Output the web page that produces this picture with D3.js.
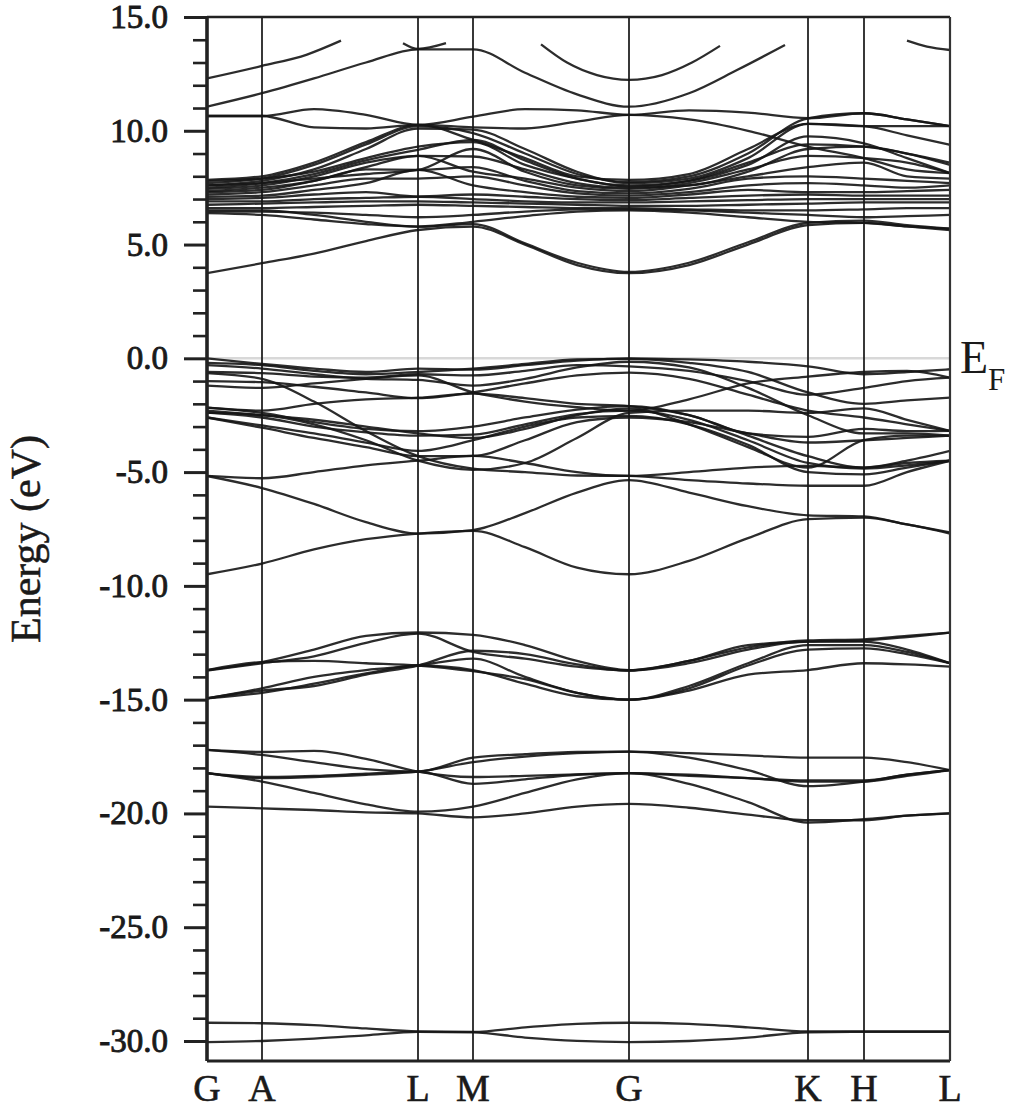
<!DOCTYPE html>
<html>
<head>
<meta charset="utf-8">
<script src="https://cdn.jsdelivr.net/npm/d3@7"></script>
<style>
  body { margin: 0; background: #fff; }
  svg text { font-family: "Liberation Serif", "Times New Roman", serif; fill: #1a1a1a; }
</style>
</head>
<body>
<div id="chart"></div>
<script>
// high symmetry path (k in arbitrary path units)
const kLabels = ['G', 'A', 'L', 'M', 'G', 'K', 'H', 'L'];
const kTicks = [0, 55, 211, 266, 422, 601, 657, 743];
// sample points along the path where band energies were read
const kNodes = [0, 55, 107, 159, 211, 266, 318, 370, 422, 482, 541, 601, 657, 700, 743];

const yMajor = [15, 10, 5, 0, -5, -10, -15, -20, -25, -30];

// energies (eV) at kNodes
const coreBands = [
  [-29.2, -29.22, -29.3, -29.45, -29.58, -29.6, -29.4, -29.25, -29.2, -29.25, -29.4, -29.58, -29.58, -29.58, -29.58],
  [-30.05, -30.0, -29.9, -29.75, -29.6, -29.62, -29.85, -30.0, -30.05, -30.0, -29.85, -29.62, -29.6, -29.6, -29.6],
];

const sBands = [
  [-17.21, -17.43, -17.75, -18.05, -18.16, -17.55, -17.4, -17.3, -17.28, -17.35, -17.45, -17.55, -17.55, -17.75, -18.1],
  [-17.21, -17.3, -17.25, -17.6, -18.16, -18.4, -18.35, -18.28, -18.23, -18.3, -18.45, -18.6, -18.6, -18.35, -18.1],
  [-18.23, -18.45, -18.4, -18.3, -18.16, -17.75, -17.5, -17.35, -17.28, -17.55, -18.1, -18.8, -18.6, -18.3, -18.1],
  [-18.23, -18.6, -19.1, -19.6, -19.92, -19.7, -19.1, -18.5, -18.23, -18.7, -19.5, -20.4, -20.25, -20.1, -20.0],
  [-19.7, -19.78, -19.85, -19.95, -20.0, -20.17, -20.0, -19.7, -19.58, -19.75, -20.05, -20.3, -20.3, -20.1, -20.0],
  [-18.23, -18.4, -18.35, -18.25, -18.16, -18.7, -18.5, -18.3, -18.23, -18.35, -18.45, -18.55, -18.55, -18.3, -18.1],
];

const pBands = [
  [-13.7, -13.35, -12.8, -12.2, -12.05, -12.15, -12.6, -13.3, -13.7, -13.3, -12.7, -12.4, -12.35, -12.2, -12.05],
  [-13.72, -13.4, -13.1, -12.5, -12.1, -12.9, -13.2, -13.55, -13.72, -13.4, -12.8, -12.45, -12.45, -12.8, -13.4],
  [-14.94, -14.7, -14.3, -13.85, -13.5, -13.7, -14.3, -14.85, -15.0, -14.6, -13.9, -13.7, -13.4, -13.45, -13.55],
  [-14.95, -14.5, -14.0, -13.7, -13.5, -13.2, -14.0, -14.7, -15.0, -14.5, -13.5, -12.8, -12.75, -13.0, -13.4],
  [-13.7, -13.35, -13.3, -13.4, -13.5, -13.75, -14.1, -14.7, -15.0, -14.4, -13.4, -12.6, -12.6, -12.9, -13.4],
  [-14.94, -14.6, -14.4, -13.9, -13.5, -12.85, -13.0, -13.45, -13.72, -13.3, -12.6, -12.45, -12.4, -12.25, -12.05],
];

const valenceBands = [
  [0.0, -0.25, -0.45, -0.6, -0.45, -0.5, -0.3, -0.1, 0.0, -0.05, -0.15, -0.35, -0.7, -0.6, -0.48],
  [-0.2, -0.3, -0.55, -0.7, -0.6, -0.45, -0.25, -0.05, -0.02, -0.2, -0.6, -1.5, -2.0, -1.85, -1.73],
  [-0.6, -0.65, -0.8, -0.85, -0.7, -0.75, -0.55, -0.3, -0.35, -0.55, -1.0, -1.6, -1.3, -1.0, -0.85],
  [-1.0, -1.05, -1.25, -1.5, -1.75, -1.5, -1.1, -0.75, -0.63, -0.9, -1.6, -2.3, -2.6, -2.9, -3.19],
  [-0.65, -0.9, -1.9, -3.2, -4.3, -4.85, -5.0, -5.15, -5.17, -5.35, -5.5, -5.6, -5.6, -5.0, -4.5],
  [-2.17, -2.3, -2.0, -1.8, -1.73, -1.55, -1.75, -2.0, -2.1, -2.5, -3.3, -3.45, -3.1, -3.2, -3.19],
  [-2.17, -2.4, -2.8, -3.1, -3.2, -3.0, -2.6, -2.25, -2.1, -2.5, -3.4, -4.3, -4.8, -4.5, -4.07],
  [-2.39, -2.6, -3.0, -3.25, -3.4, -3.35, -2.9, -2.45, -2.3, -2.7, -3.6, -4.6, -4.85, -4.7, -4.5],
  [-2.6, -2.95, -3.3, -3.7, -4.07, -3.6, -3.0, -2.6, -2.53, -2.9, -3.8, -5.0, -5.1, -4.8, -4.5],
  [-2.6, -3.05, -3.5, -3.9, -4.3, -4.29, -3.6, -2.8, -2.6, -2.8, -3.3, -3.7, -3.6, -3.5, -3.4],
  [-2.39, -2.5, -2.9, -3.6, -4.5, -4.9, -4.6, -3.5, -2.4, -2.3, -2.3, -2.4, -2.2, -2.7, -3.19],
  [-5.17, -5.27, -5.0, -4.7, -4.5, -4.29, -4.6, -5.0, -5.17, -5.0, -4.8, -4.73, -4.8, -4.6, -4.5],
  [-5.17, -5.7, -6.4, -7.2, -7.7, -7.55, -6.8, -5.9, -5.35, -5.9, -6.5, -6.9, -6.95, -7.3, -7.65],
  [-9.49, -9.02, -8.4, -7.95, -7.7, -7.58, -8.3, -9.2, -9.49, -8.9, -7.9, -7.07, -7.0, -7.3, -7.7],
  [-1.2, -1.3, -1.1, -0.9, -0.75, -1.5, -1.9, -2.15, -2.3, -1.8, -1.1, -0.8, -0.6, -0.55, -0.85],
  [-2.3, -2.5, -2.7, -3.0, -3.3, -3.5, -3.1, -2.5, -2.2, -2.9, -3.9, -4.8, -3.6, -3.4, -3.4],
  [-0.3, -0.45, -0.7, -0.9, -0.95, -1.2, -0.9, -0.4, -0.15, -0.4, -1.3, -2.5, -3.3, -3.3, -3.4],
];

const conductionBands = [
  [3.74, 4.18, 4.6, 5.15, 5.64, 5.79, 5.0, 4.1, 3.74, 4.1, 5.0, 5.85, 5.95, 5.8, 5.64],
  [6.38, 6.3, 6.1, 5.9, 5.79, 5.9, 5.05, 4.2, 3.8, 4.2, 5.1, 5.95, 6.05, 5.85, 5.7],
  [6.5, 6.5, 6.3, 6.0, 5.79, 6.0, 6.25, 6.45, 6.5, 6.4, 6.2, 6.0, 5.95, 5.8, 5.7],
  [6.45, 6.45, 6.4, 6.3, 6.2, 6.3, 6.45, 6.55, 6.55, 6.5, 6.4, 6.3, 6.2, 6.25, 6.3],
  [6.6, 6.6, 6.65, 6.7, 6.75, 6.7, 6.65, 6.6, 6.6, 6.55, 6.5, 6.5, 6.55, 6.6, 6.6],
  [6.75, 6.8, 6.85, 6.9, 6.9, 6.85, 6.8, 6.75, 6.7, 6.7, 6.75, 6.8, 6.85, 6.85, 6.85],
  [6.9, 6.9, 7.0, 7.05, 7.1, 7.0, 6.9, 6.85, 6.85, 6.9, 6.95, 7.0, 7.0, 7.0, 7.0],
  [7.0, 7.05, 7.2, 7.3, 7.11, 7.2, 7.1, 7.0, 6.95, 7.05, 7.15, 7.2, 7.15, 7.15, 7.15],
  [7.1, 7.15, 7.4, 7.7, 8.28, 7.6, 7.3, 7.1, 7.05, 7.2, 7.4, 7.3, 7.3, 7.35, 7.4],
  [7.2, 7.3, 7.6, 7.9, 7.9, 8.0, 7.6, 7.25, 7.15, 7.3, 7.6, 7.7, 7.6, 7.5, 7.6],
  [7.3, 7.4, 7.8, 8.3, 8.28, 8.4, 7.8, 7.35, 7.25, 7.45, 7.9, 8.0, 7.9, 7.8, 7.7],
  [7.45, 7.6, 8.0, 8.6, 8.9, 8.2, 7.9, 7.5, 7.35, 7.6, 8.0, 8.4, 8.6, 8.0, 7.9],
  [7.6, 7.7, 7.9, 8.1, 8.28, 9.2, 8.2, 7.6, 7.45, 7.7, 8.3, 8.9, 8.8, 8.6, 8.14],
  [7.8, 7.9, 8.2, 8.8, 9.3, 9.5, 8.5, 7.9, 7.55, 7.8, 8.6, 9.4, 9.3, 9.0, 8.5],
  [7.84, 8.0, 8.6, 9.5, 10.26, 9.6, 8.8, 8.0, 7.84, 8.1, 9.2, 10.3, 10.2, 10.2, 10.2],
  [7.7, 7.9, 8.5, 9.4, 10.2, 9.9, 9.0, 8.1, 7.75, 8.0, 9.0, 10.55, 10.77, 10.5, 10.2],
  [7.6, 7.8, 8.3, 9.2, 10.1, 10.05, 9.2, 8.2, 7.7, 7.9, 8.8, 10.3, 10.2, 9.8, 9.38],
  [7.5, 7.7, 8.1, 8.7, 9.16, 9.6, 8.7, 7.9, 7.6, 7.8, 8.5, 9.75, 9.45, 8.8, 8.14],
  [7.35, 7.5, 7.8, 8.4, 8.9, 8.87, 8.3, 7.7, 7.5, 7.6, 8.2, 9.2, 9.3, 9.0, 8.6],
  [10.65, 10.65, 10.95, 10.7, 10.26, 10.62, 10.95, 10.9, 10.7, 10.9, 10.8, 10.55, 10.77, 10.5, 10.2],
  [10.65, 10.65, 10.15, 10.1, 10.26, 10.15, 10.1, 10.4, 10.7, 10.5, 10.0, 9.3, 8.8, 8.3, 8.14],
];

// bands that leave the calculated window near 14 eV
const partialK = [
  [0, 55, 100, 134],
  [0, 55, 107, 159, 211, 266, 318, 370, 422, 482, 530, 578],
  [334, 360, 390, 422, 455, 485, 513],
  [196, 211, 239],
  [700, 720, 743],
];
const partialE = [
  [12.3, 12.85, 13.35, 13.96],
  [11.06, 11.65, 12.3, 13.0, 13.58, 13.58, 12.55, 11.6, 11.06, 11.65, 12.67, 13.77],
  [13.8, 13.0, 12.45, 12.24, 12.45, 13.0, 13.73],
  [13.85, 13.6, 13.85],
  [13.96, 13.7, 13.55],
];

const width = 1020, height = 1109;
const margin = { top: 17, right: 70, bottom: 48, left: 207 };

const svg = d3.select('#chart').append('svg')
  .attr('width', width)
  .attr('height', height);

const x = d3.scaleLinear().domain([0, 743]).range([margin.left, width - margin.right]);
const y = d3.scaleLinear().domain([-30.88, 15]).range([height - margin.bottom, margin.top]);

svg.append('clipPath').attr('id', 'plot')
  .append('rect')
  .attr('x', x(0)).attr('y', y(15))
  .attr('width', x(743) - x(0)).attr('height', y(-30.88) - y(15));

// Fermi level
svg.append('line')
  .attr('x1', x(0)).attr('x2', x(743))
  .attr('y1', y(0)).attr('y2', y(0))
  .attr('stroke', '#d8d8d8').attr('stroke-width', 2.5);

// vertical lines at high symmetry points
svg.append('g').selectAll('line')
  .data(kTicks.slice(1, -1))
  .join('line')
  .attr('x1', (d) => x(d)).attr('x2', (d) => x(d))
  .attr('y1', y(15)).attr('y2', y(-30.88))
  .attr('stroke', '#222').attr('stroke-width', 1.8);

const line = d3.line()
  .x((d) => x(d[0]))
  .y((d) => y(d[1]))
  .curve(d3.curveMonotoneX);

const fullBands = [].concat(coreBands, sBands, pBands, valenceBands, conductionBands)
  .map((b) => b.map((e, i) => [kNodes[i], e]));
const partBands = partialK.map((ks, j) => ks.map((k, i) => [k, partialE[j][i]]));

svg.append('g')
  .attr('clip-path', 'url(#plot)')
  .selectAll('path')
  .data(fullBands.concat(partBands))
  .join('path')
  .attr('d', line)
  .attr('fill', 'none')
  .attr('stroke', '#151515')
  .attr('stroke-width', 2.3)
  .attr('stroke-opacity', 0.9);

// y axis: major and minor ticks
const minor = d3.range(-30, 16, 1).filter((v) => v % 5 !== 0);
const yMinor = svg.append('g')
  .attr('transform', `translate(${margin.left},0)`)
  .call(d3.axisLeft(y).tickValues(minor).tickSize(14).tickFormat(''));
yMinor.select('.domain').remove();
yMinor.selectAll('line').attr('stroke', '#222').attr('stroke-width', 2.6);

const yAxis = svg.append('g')
  .attr('transform', `translate(${margin.left},0)`)
  .attr('font-family', '"Liberation Serif", serif')
  .call(d3.axisLeft(y).tickValues(yMajor).tickSize(23).tickPadding(16)
    .tickFormat((d) => d.toFixed(1)));
yAxis.select('.domain').remove();
yAxis.selectAll('line').attr('stroke', '#222').attr('stroke-width', 3);
yAxis.selectAll('text')
  .attr('font-size', 33)
  .attr('font-family', '"Liberation Serif", serif')
  .attr('fill', '#1a1a1a')
  .attr('stroke', '#1a1a1a').attr('stroke-width', 0.9);

// frame
const x0 = x(0), x1 = x(743), yt = y(15), yb = y(-30.88);
svg.append('line').attr('x1', x0).attr('x2', x1).attr('y1', yt).attr('y2', yt)
  .attr('stroke', '#222').attr('stroke-width', 2.6);
svg.append('line').attr('x1', x0).attr('x2', x1).attr('y1', yb).attr('y2', yb)
  .attr('stroke', '#222').attr('stroke-width', 3.2);
svg.append('line').attr('x1', x0).attr('x2', x0).attr('y1', yt).attr('y2', yb)
  .attr('stroke', '#222').attr('stroke-width', 3.6);
svg.append('line').attr('x1', x1).attr('x2', x1).attr('y1', yt).attr('y2', yb)
  .attr('stroke', '#333').attr('stroke-width', 2.2);

// k labels
svg.append('g').selectAll('text')
  .data(kTicks)
  .join('text')
  .attr('x', (d) => x(d))
  .attr('y', 1101)
  .attr('text-anchor', 'middle')
  .attr('font-size', 38)
  .attr('stroke', '#1a1a1a').attr('stroke-width', 0.6)
  .text((d, i) => kLabels[i]);

// axis title
svg.append('text')
  .attr('transform', `translate(40,${(yt + yb) / 2}) rotate(-90)`)
  .attr('text-anchor', 'middle')
  .attr('font-size', 42)
  .attr('stroke', '#1a1a1a').attr('stroke-width', 0.5)
  .text('Energy (eV)');

// Fermi level label
const ef = svg.append('text')
  .attr('x', 960)
  .attr('y', y(0) + 15)
  .attr('font-size', 46);
ef.append('tspan').text('E');
ef.append('tspan').attr('font-size', 31).attr('dy', 17).text('F');
</script>
</body>
</html>
